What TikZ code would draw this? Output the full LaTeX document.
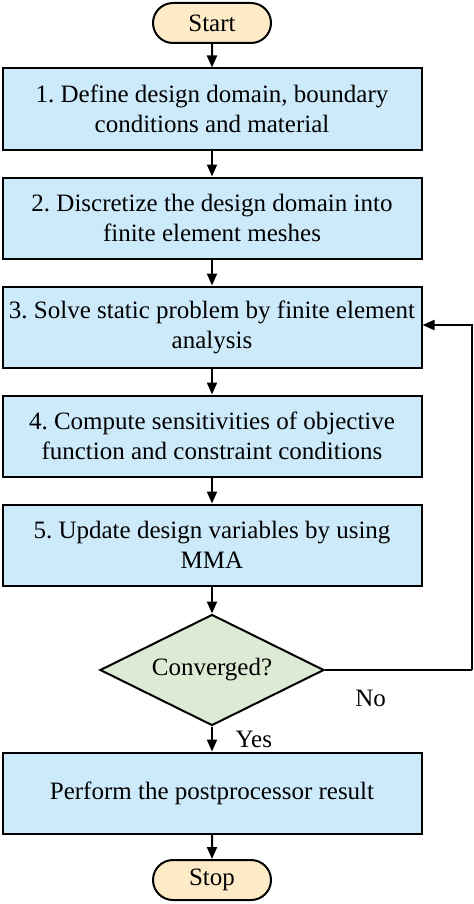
\documentclass[tikz,border=0pt]{standalone}
\usepackage{fontspec}
\setmainfont{Liberation Serif}
\usepackage{tikz}
\usetikzlibrary{arrows.meta,shapes.geometric,shapes.misc}
\definecolor{boxblue}{RGB}{205,234,251}
\definecolor{termbeige}{RGB}{253,235,200}
\definecolor{decgreen}{RGB}{221,235,213}
\frenchspacing
\begin{document}
\begin{tikzpicture}[
    x=0.5pt,
    y=-0.5pt,
    >={Triangle[width=5pt,length=6pt]},
    line width=1pt,
    font=\fontsize{12.5}{15}\selectfont,
    process/.style={
        rectangle,
        draw,
        fill=boxblue,
        align=center,
        minimum width=209.5pt,
        minimum height=40.5pt,
        inner sep=0pt
    },
    terminal/.style={
        rounded rectangle,
        draw,
        fill=termbeige,
        minimum width=59pt,
        minimum height=20pt,
        inner sep=0pt
    },
    decision/.style={
        diamond,
        draw,
        fill=decgreen,
        aspect=2,
        minimum width=112pt,
        minimum height=55.5pt,
        inner sep=0pt
    }
]
\useasboundingbox (0,0) rectangle (474,904);

\node[terminal] (start) at (212,23) {Start};

\node[process] (define) at (212,109)
{1. Define design domain, boundary\\conditions and material};

\node[process] (mesh) at (212,218)
{2. Discretize the design domain into\\finite element meshes};

\node[process] (fea) at (212,327)
{3. Solve static problem by finite element\\analysis};

\node[process] (sens) at (212,436)
{4. Compute sensitivities of objective\\function and constraint conditions};

\node[process] (mma) at (212,545)
{5. Update design variables by using\\MMA};

\node[decision] (conv) at (212,670) {Converged?};

\node[process] (post) at (212,793)
{Perform the postprocessor result};

\node[terminal] (stop) at (212,880) {Stop};

\draw[->] (start) -- (define);
\draw[->] (define) -- (mesh);
\draw[->] (mesh) -- (fea);
\draw[->] (fea) -- (sens);
\draw[->] (sens) -- (mma);
\draw[->] (mma) -- (conv);

\draw[->]
(conv) --
node[midway, right, xshift=8pt] {Yes}
(post);

\draw[->] (post) -- (stop);

\coordinate (loopDown) at (472,670);
\coordinate (loopUp) at (472,325);

\draw
(conv.east) --
node[pos=0.31, below, yshift=-6pt] {No}
(loopDown);

\draw[->]
(loopDown) -- (loopUp) -- (fea.east |- loopUp);

\end{tikzpicture}
\end{document}
